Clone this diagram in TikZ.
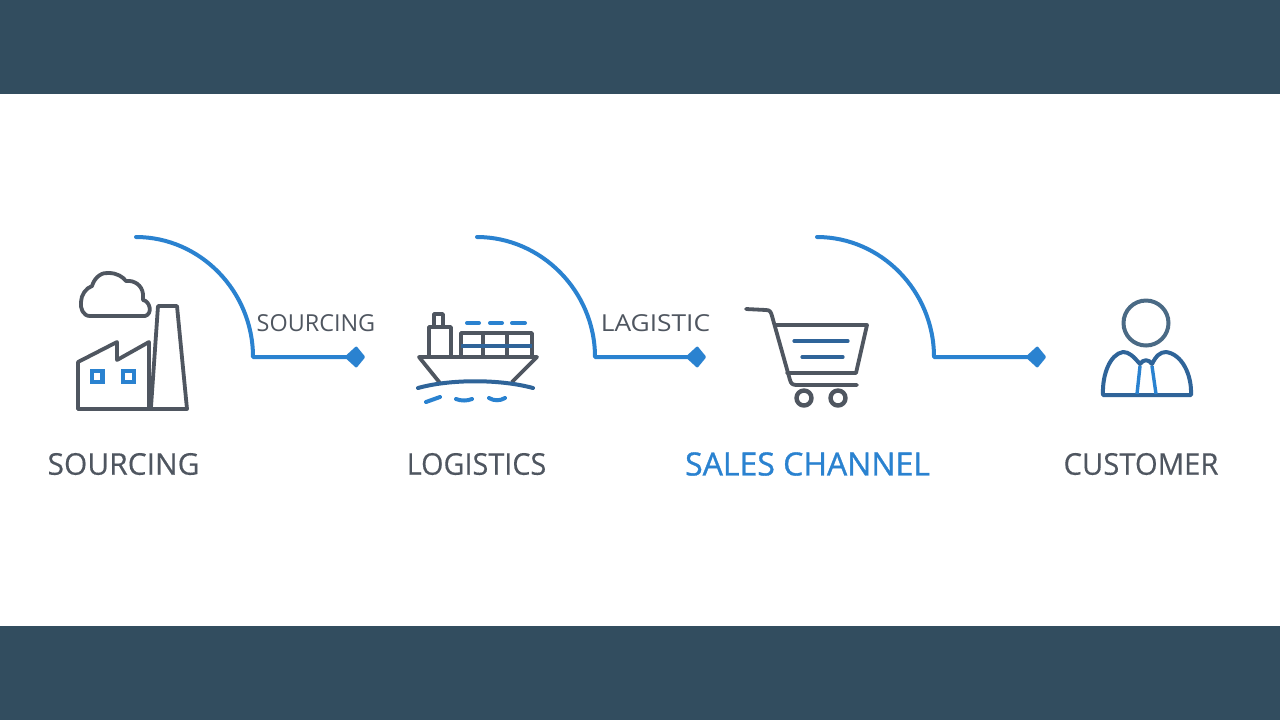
\documentclass[tikz,border=0pt]{standalone}
\usepackage{fontspec}
\setmainfont{Open Sans}
\newfontfamily\stagefont[FakeBold=0.3]{Open Sans}
\newfontfamily\salesfont[FakeBold=1]{Open Sans}
\definecolor{band}{HTML}{324D5F}
\definecolor{flow}{HTML}{2A82D0}
\definecolor{ink}{HTML}{4F5660}
\definecolor{navy}{HTML}{2F6499}
\definecolor{slate}{HTML}{4A6A85}
\usetikzlibrary{arrows.meta}
\usetikzlibrary{positioning}
\tikzstyle{base}=[x=0.5pt, y=-0.5pt, inner sep=0pt, outer sep=0pt]
\tikzstyle{link}=[flow, line width=2pt, line cap=round, line join=round, -{Kite[length=10.5pt,width=11pt,inset=6pt,round,line width=1.2pt]}]
\tikzstyle{icon}=[ink, line width=1.9pt, line join=round, line cap=round]
\tikzstyle{accent}=[flow, line width=1.8pt, line cap=round]
\tikzstyle{stage}=[text=ink, font=\stagefont\fontsize{15}{17}\selectfont]
\tikzstyle{flowlabel}=[text=ink, font=\fontsize{11.7}{13}\selectfont]

\begin{document}
\begin{tikzpicture}[base]
    \path [use as bounding box] (0,0) rectangle (1280,720);
    \fill [white] (0,0) rectangle (1280,720);
    \fill [band] (0,0) rectangle (1280,94);
    \fill [band] (0,626) rectangle (1280,720);

    % factory
    \draw [icon] (90,316) .. controls (83,316) and (80,308) .. (81,302)
        .. controls (81,295) and (86,288) .. (92,286)
        .. controls (95,276) and (103,272) .. (109,273)
        .. controls (117,273) and (123,277) .. (126,281)
        .. controls (134,280) and (142,285) .. (143,294)
        .. controls (143,297) and (143,299) .. (143,300)
        .. controls (150,301) and (153,314) .. (145,316) -- cycle;
    \draw [icon] (78,409) -- (78,362) -- (117,342) -- (117,360) -- (149,342) -- (149,409);
    \draw [icon] (151,407) -- (158,306) -- (177,306) -- (187,409) -- (78,409);
    \draw [accent, line width=2.2pt, line cap=butt] (92,371) rectangle (102.5,382);
    \draw [accent, line width=2.2pt, line cap=butt] (123,371) rectangle (134,382);

    % ship
    \draw [icon] (434,327) -- (434,314) -- (443,314) -- (443,327);
    \draw [icon] (429,357) -- (429,327) -- (451,327) -- (451,357);
    \draw [icon] (461,357) -- (461,333) -- (532,333) -- (532,357);
    \draw [icon] (483,333) -- (483,357);
    \draw [icon] (507,333) -- (507,357);
    \draw [icon] (440,383) -- (419,357) -- (537,357) -- (512,382);
    \draw [accent, navy, line width=2.3pt, line cap=butt] (461,346) -- (532,346);
    \draw [accent, line width=2pt] (467,323) -- (479,323);
    \draw [accent, line width=2pt] (490,323) -- (502,323);
    \draw [accent, line width=2pt] (512,323) -- (525,323);
    \draw [accent, navy, line width=2pt] (418,388) .. controls (450,379) and (500,379) .. (533,388);
    \draw [accent, line width=2pt] (426,402) -- (440,397);
    \draw [accent, line width=2pt] (456,399) .. controls (461,401) and (467,401) .. (472,399);
    \draw [accent, line width=2pt] (489,398) .. controls (494,401) and (500,401) .. (505,398);

    % cart
    \draw [icon] (746,309) -- (766,310) .. controls (770,310) and (771,312) .. (772,316)
        -- (790,380) .. controls (791,384) and (793,385) .. (797,385) -- (857,385);
    \draw [icon] (776,325) -- (867,325) -- (856,373) -- (787,373);
    \draw [accent, navy, line width=1.6pt] (794,341) -- (848,341);
    \draw [accent, navy, line width=1.6pt] (802,357) -- (843,357);
    \draw [icon, line width=2.2pt] (804,398) circle (7.5);
    \draw [icon, line width=2.2pt] (838,398) circle (7.5);

    % customer
    \draw [slate, line width=2pt] (1146,323) circle (22.5);
    \draw [navy, line width=2pt, line join=round] (1140,364)
        .. controls (1133,356) and (1129,352) .. (1123,352)
        .. controls (1110,354) and (1102,375) .. (1103,395) -- (1191,395)
        .. controls (1192,375) and (1182,354) .. (1166,352)
        .. controls (1160,352) and (1156,356) .. (1152,364)
        .. controls (1149,359) and (1143,359) .. (1140,364) -- cycle;
    \draw [flow, line width=1.7pt] (1140,366) -- (1137,394);
    \draw [flow, line width=1.7pt] (1152,366) -- (1156,394);

    % connectors
    \coordinate (start1) at (136,237);
    \coordinate (bend1) at (253,357);
    \coordinate (tip1) at (365,357);
    \coordinate (start2) at (477,237);
    \coordinate (bend2) at (595,357);
    \coordinate (tip2) at (706,357);
    \coordinate (start3) at (817,237);
    \coordinate (bend3) at (934,357);
    \coordinate (tip3) at (1046,357);
    \draw [link] (start1) .. controls +(64,0) and +(0,-66) .. (bend1) -- (tip1);
    \draw [link] (start2) .. controls +(64,0) and +(0,-66) .. (bend2) -- (tip2);
    \draw [link] (start3) .. controls +(64,0) and +(0,-66) .. (bend3) -- (tip3);

    % labels
    \node [flowlabel] (flow1) at (316,323) {SOURCING};
    \node [flowlabel, xscale=1.125] (flow2) at (655.5,323) {LAGISTIC};
    \node [stage] (sourcing) at (123.5,464) {SOURCING};
    \node [stage, xscale=0.96] (logistics) at (476.5,464) {LOGISTICS};
    \node [stage, text=flow, font=\salesfont\fontsize{16}{18}\selectfont] (sales) at (807.5,464) {SALES CHANNEL};
    \node [stage, xscale=0.975] (customer) at (1141,464) {CUSTOMER};
\end{tikzpicture}
\end{document}
